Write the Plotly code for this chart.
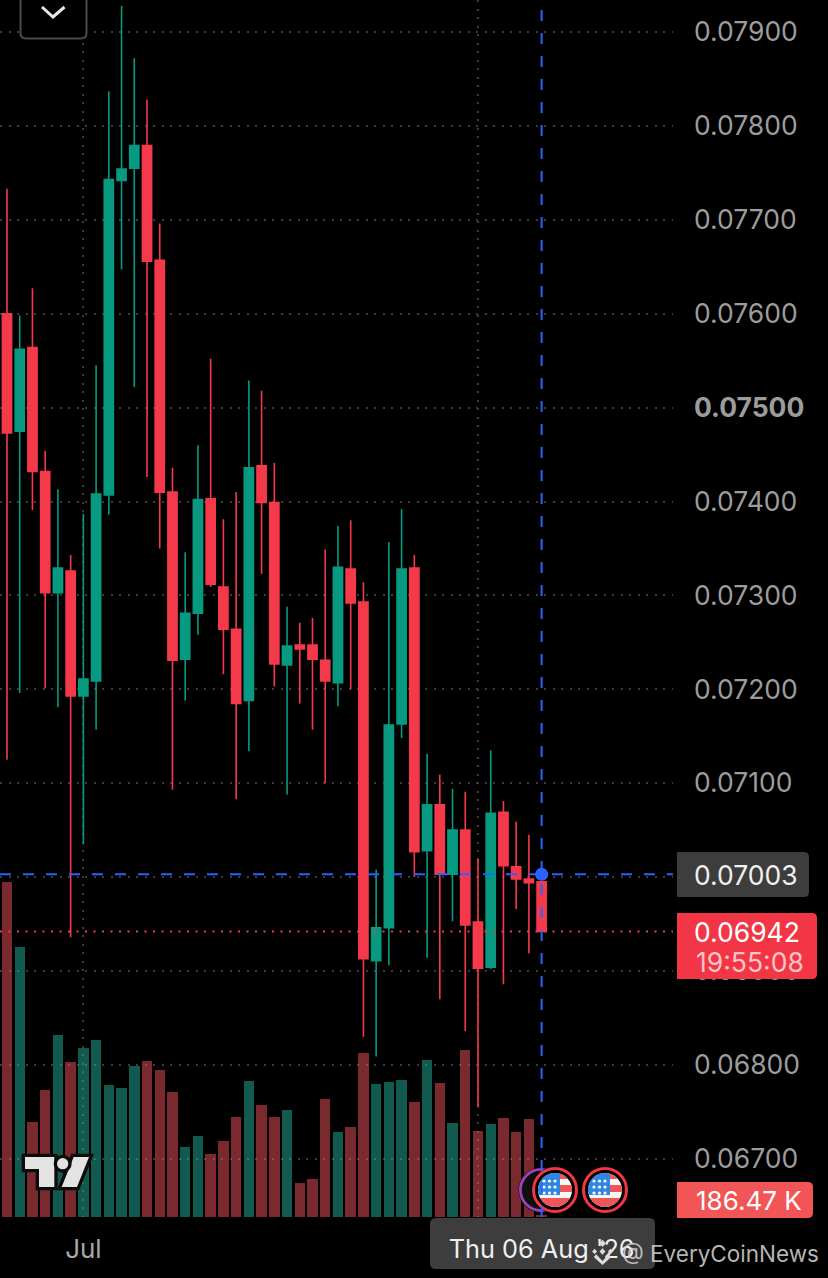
import base64
import plotly.graph_objects as go
import pandas as pd

# ---- data ----
START_DATE = "2026-06-25"
DOWN, UP = "down", "up"
direction = ["down","up","down","down","up","down","up","up","up","up","up","down","down","down","up","up",
             "down","down","down","up","down","down","up","down","down","down","up","down","down","up","up","up",
             "down","up","down","up","down","down","up","down","down","down","down"]
opens = [.07600,.07475,.07564,.07432,.07303,.07326,.07193,.07209,.07407,.07742,.07755,.07779,.07657,.07410,.07232,.07281,
         .07403,.07309,.07264,.07188,.07438,.07399,.07226,.07247,.07247,.07231,.07207,.07328,.07293,.06911,.06946,.07163,
         .07329,.07028,.07077,.07003,.07050,.06952,.06904,.07069,.07011,.06998,.06995]
closes = [.07473,.07562,.07432,.07303,.07329,.07193,.07211,.07408,.07743,.07754,.07779,.07656,.07410,.07231,.07281,.07402,
          .07312,.07264,.07185,.07436,.07399,.07227,.07246,.07243,.07232,.07209,.07330,.07292,.06913,.06946,.07162,.07328,
          .07027,.07077,.07003,.07050,.06949,.06903,.07068,.07012,.06998,.06994,.06942]
highs = [.07733,.07598,.07627,.07454,.07413,.07343,.07387,.07545,.07837,.07928,.07872,.07828,.07696,.07436,.07346,.07460,
         .07552,.07381,.07410,.07529,.07518,.07441,.07288,.07271,.07276,.07349,.07374,.07380,.07314,.07008,.07357,.07392,
         .07343,.07131,.07109,.07094,.07091,.07020,.07135,.07081,.07059,.07045,.06995]
lows = [.07125,.07196,.07391,.07201,.07181,.06936,.07035,.07157,.07386,.07647,.07522,.07426,.07350,.07093,.07188,.07258,
        .07309,.07216,.07083,.07134,.07323,.07203,.07088,.07185,.07157,.07100,.07182,.07200,.06830,.06809,.06906,.07148,
        .07000,.06914,.06870,.06953,.06836,.06755,.06902,.06886,.06966,.06919,.06942]
volumes_k = [31222,25164,8854,11836,16962,14446,15751,16496,12302,12023,14073,14539,13700,11650,6524,7549,
             5872,7083,9320,12675,10438,9320,9972,3169,3542,10998,7922,8388,15285,12396,12582,12768,
             10718,14632,12489,8761,15564,8015,8668,9227,7922,9134,186.47]
price_ticks = [.067,.068,.069,.070,.071,.072,.073,.074,.075,.076,.077,.078,.079]
price_tick_labels = ["0.06700","0.06800","0.06900","0.07000","0.07100","0.07200","0.07300","0.07400",
                     "<b>0.07500</b>","0.07600","0.07700","0.07800","0.07900"]
month_ticks = ["2026-07-01", "2026-08-01"]
month_tick_labels = ["Jul", ""]
crosshair_price = 0.07003
crosshair_date = "2026-08-06"
crosshair_date_label = "Thu 06 Aug '26"
last_price = 0.06942

dates = pd.date_range(START_DATE, periods=len(opens), freq="D")

# ---- style / layout ----
W, H = 828, 1278
PLOT_R, PLOT_B = 673, 1217
UP_C, DOWN_C = "#089981", "#F43A4A"
VOL_UP, VOL_DOWN = "rgba(36,180,160,0.5)", "rgba(244,84,92,0.5)"
GRID = "#3c3c3c"
BLUE = "#2962FF"
FONT = "Inter"
TICK_C = "#9c9c9c"
X_RANGE = ["2026-06-24 10:48", "2026-08-16 07:41"]

def px(x): return x / PLOT_R
def py(y): return 1 - y / PLOT_B

def rounded(x0, y0, x1, y1, r, color, left=False, layer="above"):
    rl = r if left else 0
    p = (f"M {px(x0+rl)} {py(y0)} L {px(x1-r)} {py(y0)} "
         f"Q {px(x1)} {py(y0)} {px(x1)} {py(y0+r)} L {px(x1)} {py(y1-r)} "
         f"Q {px(x1)} {py(y1)} {px(x1-r)} {py(y1)} L {px(x0+rl)} {py(y1)} ")
    if left:
        p += f"Q {px(x0)} {py(y1)} {px(x0)} {py(y1-r)} L {px(x0)} {py(y0+r)} Q {px(x0)} {py(y0)} {px(x0+r)} {py(y0)} "
    p += "Z"
    return dict(type="path", path=p, xref="paper", yref="paper", fillcolor=color,
                line=dict(width=0), layer=layer)

def text(x, y, s, color="#eeeeee", size=26.5, anchor="left"):
    return dict(x=px(x), y=py(y), xref="paper", yref="paper", text=s, showarrow=False,
                xanchor=anchor, yanchor="middle", borderpad=0,
                font=dict(family=FONT, size=size, color=color))

def svg_uri(svg):
    return "data:image/svg+xml;base64," + base64.b64encode(svg.encode()).decode()

def image(src, x0, y0, x1, y1):
    return dict(source=src, xref="paper", yref="paper", x=px(x0), y=py(y0),
                sizex=(x1 - x0) / PLOT_R, sizey=(y1 - y0) / PLOT_B,
                xanchor="left", yanchor="top", sizing="stretch", layer="above")

stars = "".join(f'<circle cx="{cx}" cy="{cy}" r="1.6" fill="#fff"/>'
                for cy in (15, 21, 27) for cx in (13, 18.5, 24))
flag = f'''<svg xmlns="http://www.w3.org/2000/svg" width="48" height="48" viewBox="0 0 48 48">
<defs><clipPath id="c"><circle cx="24" cy="24" r="17"/></clipPath></defs>
<circle cx="24" cy="24" r="23.5" fill="#000"/><circle cx="24" cy="24" r="21.5" fill="#000" stroke="#F23645" stroke-width="3"/>
<g clip-path="url(#c)"><rect width="48" height="48" fill="#f6f6f6"/>
<rect x="0" y="7" width="48" height="6" fill="#F05558"/><rect x="0" y="19" width="48" height="7" fill="#F05558"/>
<rect x="0" y="32" width="48" height="10" fill="#F05558"/><rect x="0" y="5" width="29" height="24" fill="#2F86E0"/>{stars}</g></svg>'''
purple = '''<svg xmlns="http://www.w3.org/2000/svg" width="48" height="48" viewBox="0 0 48 48">
<circle cx="24" cy="24" r="23.5" fill="#000"/><circle cx="24" cy="24" r="21.5" fill="#0e0e0e" stroke="#9C42B4" stroke-width="3"/></svg>'''
logo = '''<svg xmlns="http://www.w3.org/2000/svg" width="270" height="165" viewBox="0 0 270 165">
<g fill="#e3e3e3" stroke="#0c0c0c" stroke-width="20" stroke-linejoin="miter" paint-order="stroke">
<path d="M30 36H118V126H72V72H30Z"/><path d="M176 36H222L186 126H140Z"/><circle cx="143" cy="56" r="17"/></g></svg>'''
binance = '''<svg xmlns="http://www.w3.org/2000/svg" width="60" height="60" viewBox="0 0 60 60">
<g fill="#dcdcdc"><path d="M30 4L38 12L30 20L22 12Z"/>
<path d="M5 30L11 24L17 30L11 36Z"/><path d="M30 23L37 30L30 37L23 30Z"/>
<path d="M43 30L49 24L55 30L49 36Z"/><path d="M15 36L30 51L45 36L51 42L30 60L9 42Z"/>
</g></svg>'''

fig = go.Figure()
fig.add_trace(go.Bar(
    x=dates, y=volumes_k, width=0.82 * 86400000,
    marker=dict(color=[VOL_UP if d == UP else VOL_DOWN for d in direction], line=dict(width=0)),
    yaxis="y", hoverinfo="skip", showlegend=False))
fig.add_trace(go.Candlestick(
    x=dates, open=opens, high=highs, low=lows, close=closes, yaxis="y2", whiskerwidth=0,
    increasing=dict(line=dict(color=UP_C, width=1.6), fillcolor=UP_C),
    decreasing=dict(line=dict(color=DOWN_C, width=1.6), fillcolor=DOWN_C),
    showlegend=False))
fig.add_trace(go.Scatter(
    x=[crosshair_date], y=[crosshair_price], xaxis="x2", yaxis="y2", mode="markers",
    marker=dict(color=BLUE, size=13), showlegend=False, hoverinfo="skip"))

shapes = [
    dict(type="line", xref="paper", x0=0, x1=1, yref="y2", y0=last_price, y1=last_price,
         line=dict(color=DOWN_C, width=2, dash="2px,6.5px"), layer="above"),
    dict(type="line", xref="paper", x0=0, x1=1, yref="y2", y0=crosshair_price, y1=crosshair_price,
         line=dict(color=BLUE, width=2, dash="11px,12px"), layer="above"),
    dict(type="line", xref="x", x0=crosshair_date, x1=crosshair_date, yref="paper", y0=0, y1=1,
         line=dict(color=BLUE, width=2, dash="11px,12px"), layer="above"),
    rounded(677, 852, 809, 897, 5, "#3d3d3d"),
    rounded(677, 913, 817, 979, 5, "#F23645"),
    rounded(677, 1182, 813, 1218, 5, "#F25555"),
    rounded(430, 1218, 655, 1269, 6, "#3d3d3d", left=True, layer="below"),
    # collapse button, top left
    dict(type="path", path=f"M {px(20.5)} {py(-4)} L {px(20.5)} {py(33)} Q {px(20.5)} {py(38.5)} {px(26)} {py(38.5)} "
         f"L {px(81)} {py(38.5)} Q {px(86.5)} {py(38.5)} {px(86.5)} {py(33)} L {px(86.5)} {py(-4)}",
         xref="paper", yref="paper", line=dict(color="#4a4a4a", width=2), fillcolor="#000", layer="above"),
    dict(type="path", path=f"M {px(42)} {py(7)} L {px(53)} {py(17)} L {px(64.5)} {py(7)}",
         xref="paper", yref="paper", line=dict(color="#e8e8e8", width=3), layer="above"),
]

annotations = [
    text(693.5, 875, "0.07003", "#f0f0f0"),
    text(693.5, 932, "0.06942", "#ffffff"),
    text(694.5, 962, "19:55:08", "#fbc4c8"),
    text(695, 1200, "186.47 K", "#ffffff", size=26),
    text(621, 1253, "@ EveryCoinNews", "rgba(215,215,215,0.85)", size=22.5),
]

images = [
    image(svg_uri(purple), 518, 1167, 564, 1213),
    image(svg_uri(flag), 531, 1166, 579, 1214),
    image(svg_uri(flag), 581, 1166, 629, 1214),
    image(svg_uri(logo), 15, 1145, 105, 1200),
    image(svg_uri(binance), 590, 1238, 615, 1265),
]

fig.update_layout(
    width=W, height=H, autosize=False,
    margin=dict(l=0, r=W - PLOT_R, t=0, b=H - PLOT_B, pad=0),
    paper_bgcolor="#000", plot_bgcolor="#000",
    showlegend=False, bargap=0, boxgap=0.28, boxgroupgap=0,
    font=dict(family=FONT, color=TICK_C),
    xaxis=dict(type="date", range=X_RANGE, rangeslider=dict(visible=False),
               tickmode="array", tickvals=month_ticks, ticktext=month_tick_labels, ticks="",
               ticklabelstandoff=14, showgrid=True, gridcolor=GRID, griddash="2px,6.5px", gridwidth=1.5,
               tickfont=dict(family=FONT, size=26, color="#a8a8a8"), zeroline=False, showline=False),
    xaxis2=dict(type="date", overlaying="x", side="bottom", anchor="y2", range=X_RANGE,
                tickmode="array", tickvals=[crosshair_date], ticktext=[crosshair_date_label], ticks="",
                ticklabelstandoff=15, showgrid=False,
                tickfont=dict(family=FONT, size=25.3, color="#f0f0f0"), zeroline=False, showline=False),
    yaxis=dict(range=[0, 113424], visible=False, fixedrange=True, showgrid=False),
    yaxis2=dict(overlaying="y", side="right", anchor="x", range=[0.06638, 0.079341],
                tickmode="array", tickvals=price_ticks, ticktext=price_tick_labels, ticks="",
                ticklabelstandoff=20, showgrid=True, gridcolor=GRID, griddash="2px,6.5px", gridwidth=1.5,
                tickfont=dict(family=FONT, size=26.5, color=TICK_C), zeroline=False, showline=False),
    shapes=shapes, annotations=annotations, images=images,
    hovermode=False,
)

fig.write_html("out.html", post_script="document.body.style.margin='0';document.body.style.background='#000';",
               config=dict(displayModeBar=False))
